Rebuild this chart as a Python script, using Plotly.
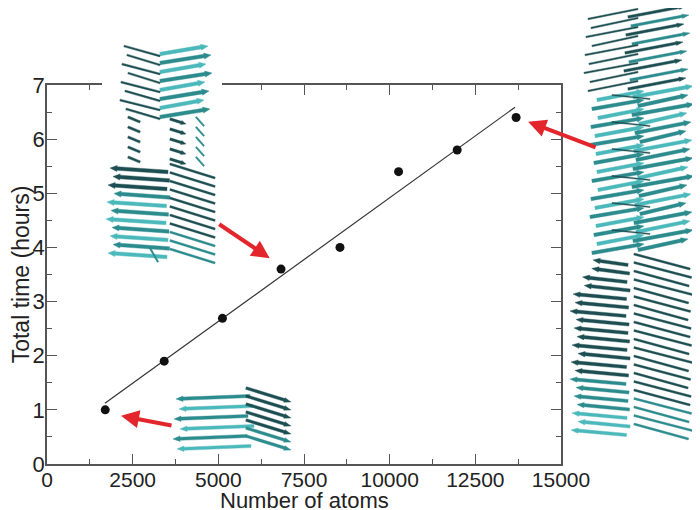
import plotly.graph_objects as go

# run time vs system size
atoms = [1700, 3420, 5120, 6830, 8550, 10260, 11970, 13690]
hours = [1.0, 1.9, 2.69, 3.6, 4.0, 5.4, 5.8, 6.4]

# fitted line, end points as drawn
fit_atoms = [1690, 13660]
fit_hours = [1.12, 6.59]

# red arrows: head in data units, tail offset in px
arrow_atoms = [6500, 2160, 14040]
arrow_hours = [3.80, 0.89, 6.32]
arrow_dx = [-52, 52, 69]
arrow_dy = [-35, 10, 26]

x_ticks = [0, 2500, 5000, 7500, 10000, 12500, 15000]
x_labels = ["0", "2500", "5000", "7500", "10000", "12500", "15000"]
y_ticks = [0, 1, 2, 3, 4, 5, 6, 7]

FONT = "Liberation Sans, Arial, sans-serif"
AX = "#555555"

# plot area in page pixels (used to place the fibril sketches)
PX0, PX1, PY0, PY1 = 47, 561, 85, 464
BODY = 8  # the html body margin shifts the figure by this much


def paper(x, y):
    return (x - PX0) / (PX1 - PX0), (PY1 - y) / (PY1 - PY0)


def strand(x0, y0, x1, y1, w, color, head=True):
    # beta strand drawn as a ribbon with an arrow head, in page pixels
    dx, dy = x1 - x0, y1 - y0
    n = (dx * dx + dy * dy) ** 0.5
    ux, uy = dx / n, dy / n
    nx, ny = -uy, ux
    hl = min(7, n * 0.3) if head else 0
    bx, by = x1 - ux * hl, y1 - uy * hl
    pts = [(x0 + nx * w / 2, y0 + ny * w / 2), (bx + nx * w / 2, by + ny * w / 2)]
    if head:
        pts += [(bx + nx * w * 0.85, by + ny * w * 0.85), (x1, y1),
                (bx - nx * w * 0.85, by - ny * w * 0.85)]
    pts += [(bx - nx * w / 2, by - ny * w / 2), (x0 - nx * w / 2, y0 - ny * w / 2)]
    path = "M " + " L ".join("%.4f,%.4f" % paper(*p) for p in pts) + " Z"
    return dict(type="path", xref="paper", yref="paper", path=path,
                fillcolor=color, line=dict(width=0.4, color=color), layer="above")


DARK = "#1d4e51"
TEAL = "#2b8b8d"
CYAN = "#4bb9bb"
var = [0, 3, -2, 4, -3, 1, -4, 2]

deco = []

# white backing of the top-left picture (it hides the top axis line)
x0p, y0p = paper(102, 265)
x1p, y1p = paper(222, 38)
deco.append(dict(type="rect", xref="paper", yref="paper", x0=x0p, y0=y0p, x1=x1p, y1=y1p,
                 fillcolor="white", line=dict(width=0), layer="above"))

# right fibril, upper part
for i in range(27):
    y = 12 + i * 9
    v = var[i % 8]
    if y < 90:
        deco.append(strand(588 + v, y + 7, 638, y - 3, 1.6, DARK, head=False))
        deco.append(strand(628 + v, y + 5, 686 + v, y - 6, 2.6, TEAL if i % 2 else DARK))
    else:
        deco.append(strand(594 + v, y + 7, 644, y - 2, 3.4, CYAN if i % 2 else TEAL))
        deco.append(strand(636 - v, y + 4, 690 + v, y - 7, 3.4, TEAL if i % 3 else CYAN))
        if i % 3 == 0:
            deco.append(strand(612, y + 2, 650, y + 6, 1.2, DARK, head=False))

# right fibril, lower part
for i in range(21):
    y = 262 + i * 8.5
    v = var[i % 8]
    c = DARK if y < 380 else (TEAL if y < 415 else CYAN)
    left = 574 + max(0, 300 - y) * 0.5 + v
    deco.append(strand(628 + v / 2, y + 3, left, y - 2, 3.2, c))
    deco.append(strand(634, y - 8, 690 + v / 2, y + 7, 2.0, DARK if y < 405 else TEAL, head=False))

# top-left fibril
for i in range(8):
    y = 46 + i * 9
    v = var[i % 8]
    deco.append(strand(160, y + 8, 208 + v, y, 3.6, TEAL if i % 2 else CYAN))
    deco.append(strand(124 + v, y, 160, y + 10, 1.8, DARK, head=False))
for i in range(5):
    y = 117 + i * 10
    deco.append(strand(128, y, 140, y + 5, 2.4, DARK, head=False))
    deco.append(strand(170, y + 2, 186, y + 7, 2.4, DARK))
    deco.append(strand(196, y, 204, y + 9, 1.6, TEAL, head=False))
for i in range(11):
    y = 170 + i * 8.5
    v = var[i % 8]
    c = TEAL if i % 2 else CYAN
    if i < 3:
        c = DARK
    deco.append(strand(168 + v / 2, y + 2, 110 + v, y - 2, 3.6, c))
    deco.append(strand(170, y - 6, 215, y + 8, 2.0, DARK if i < 8 else TEAL, head=False))
deco.append(strand(150, 248, 158, 262, 1.6, TEAL, head=False))

# bottom fibril
for i in range(6):
    y = 396 + i * 10
    v = var[i % 8]
    deco.append(strand(250 + v, y, 176 + v, y + 3, 3.2, CYAN if i % 2 else TEAL))
for i in range(7):
    y = 394 + i * 8
    deco.append(strand(246, y - 6, 291, y + 8, 2.8, DARK if i < 5 else TEAL))

fig = go.Figure()
fig.add_trace(go.Scatter(x=fit_atoms, y=fit_hours, mode="lines",
                         line=dict(color="#333333", width=1.2), showlegend=False))
fig.add_trace(go.Scatter(x=atoms, y=hours, mode="markers",
                         marker=dict(color="#111111", size=9), showlegend=False))

for ax_, ay_, dx, dy in zip(arrow_atoms, arrow_hours, arrow_dx, arrow_dy):
    fig.add_annotation(x=ax_, y=ay_, ax=dx, ay=dy, text="", showarrow=True,
                       arrowhead=2, arrowsize=0.9, arrowwidth=4, arrowcolor="#e3262b")

# x title as a paper annotation so it sits just under the tick labels
fig.add_annotation(text="Number of atoms", xref="paper", yref="paper",
                   x=0.5, y=paper(0, 500)[1], yanchor="middle", showarrow=False,
                   borderpad=0, font=dict(size=22, family=FONT, color="#222222"))

axis_common = dict(
    ticks="inside", ticklen=10, tickwidth=1.3, tickcolor=AX,
    showline=True, linecolor=AX, linewidth=1.5, mirror="ticks",
    showgrid=False, zeroline=False, automargin=False,
)

fig.update_layout(
    width=700, height=510,
    margin=dict(l=PX0 - BODY, r=700 - PX1 + BODY, t=PY0 - BODY, b=510 - PY1 + BODY),
    paper_bgcolor="white", plot_bgcolor="white",
    font=dict(family=FONT, color="#222222"),
    xaxis=dict(range=[0, 15000], tickvals=x_ticks, ticktext=x_labels, tickfont=dict(size=21),
               ticklabelstandoff=-4,
               minor=dict(ticks="inside", ticklen=5, tickwidth=1.3, tickcolor=AX, dtick=1250),
               **axis_common),
    yaxis=dict(range=[0, 7], tickvals=y_ticks, tickfont=dict(size=22),
               ticklabelstandoff=-4,
               minor=dict(ticks="inside", ticklen=5, tickwidth=1.3, tickcolor=AX, dtick=0.5),
               title=dict(text="Total time (hours)", font=dict(size=23), standoff=2),
               **axis_common),
    shapes=deco,
)

fig.write_html("out.html")
